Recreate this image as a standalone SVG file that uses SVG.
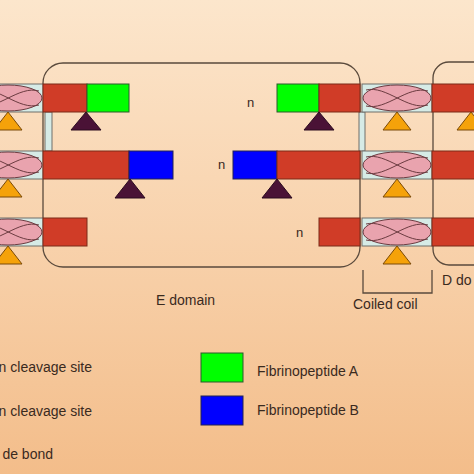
<svg xmlns="http://www.w3.org/2000/svg" width="474" height="474" viewBox="0 0 474 474">
<defs>
<linearGradient id="bg" x1="0" y1="0" x2="0" y2="1">
<stop offset="0" stop-color="#fce6cc"/>
<stop offset="0.5" stop-color="#f8d2ac"/>
<stop offset="1" stop-color="#f3bd8a"/>
</linearGradient>
<g id="cc">
<rect x="0" y="0" width="70" height="28" fill="#d6ebe6" stroke="#6f6f6a" stroke-width="1"/>
<ellipse cx="35" cy="14" rx="34" ry="13" fill="#e9a3ae" stroke="#6b3b40" stroke-width="1"/>
<path d="M4,6 C24,1 46,27 66,21 M4,22 C24,27 46,1 66,7" fill="none" stroke="#6b3b40" stroke-width="1"/>
</g>
</defs>
<style>
.red{fill:#d03c27;stroke:#7a2a18;stroke-width:1}
.grn{fill:#00ff00;stroke:#2d5a2d;stroke-width:1}
.blu{fill:#0000ff;stroke:#222255;stroke-width:1}
.org{fill:#f5a20a;stroke:#7a4a08;stroke-width:1}
.pur{fill:#4a1236;stroke:#2a0a1e;stroke-width:1}
.lnk{fill:#d6ebe6;stroke:#6f6f6a;stroke-width:1}
.dom{fill:none;stroke:#5a4a3c;stroke-width:1.3}
text{font-family:"Liberation Sans",Arial,sans-serif;fill:#3a2a1e}
.lbl{font-size:14px}
.n{font-size:13px}
</style>
<rect width="474" height="474" fill="url(#bg)"/>

<g id="domains">
<rect id="e-domain" class="dom" x="43" y="63" width="317" height="204" rx="20"/>
<rect id="d-domain" class="dom" x="433" y="62" width="70" height="203" rx="16"/>
<path id="coil-bracket" class="dom" d="M363,270 V293 H432 V270"/>
</g>

<g id="connectors">
<rect class="lnk" x="45" y="112" width="7" height="39"/>
<rect class="lnk" x="359" y="112" width="6" height="39"/>
</g>

<g id="left-coils">
<use href="#cc" x="-27" y="84"/>
<use href="#cc" x="-27" y="151"/>
<use href="#cc" x="-27" y="218"/>
<polygon class="org" points="-6,130 8,112 22,130"/>
<polygon class="org" points="-6,197 8,179 22,197"/>
<polygon class="org" points="-6,264 8,246 22,264"/>
</g>

<g id="right-coils">
<use href="#cc" x="362" y="84"/>
<use href="#cc" x="362" y="151"/>
<use href="#cc" x="362" y="218"/>
<polygon class="org" points="383,130 397,112 411,130"/>
<polygon class="org" points="383,197 397,179 411,197"/>
<polygon class="org" points="383,264 397,246 411,264"/>
</g>

<g id="e-left">
<rect class="red" x="43" y="84" width="44" height="28"/>
<rect class="grn" x="87" y="84" width="42" height="28"/>
<polygon class="pur" points="71,130 86,112 101,130"/>
<rect class="red" x="43" y="151" width="86" height="28"/>
<rect class="blu" x="129" y="151" width="44" height="28"/>
<polygon class="pur" points="115,198 130,179 145,198"/>
<rect class="red" x="43" y="218" width="44" height="28"/>
</g>

<g id="e-right">
<rect class="grn" x="277" y="84" width="42" height="28"/>
<rect class="red" x="319" y="84" width="41" height="28"/>
<polygon class="pur" points="304,130 319,112 334,130"/>
<rect class="blu" x="233" y="151" width="44" height="28"/>
<rect class="red" x="277" y="151" width="83" height="28"/>
<polygon class="pur" points="262,198 277,179 292,198"/>
<rect class="red" x="319" y="218" width="41" height="28"/>
<text class="n" x="247" y="107">n</text>
<text class="n" x="218" y="169">n</text>
<text class="n" x="296" y="237">n</text>
</g>

<g id="d-side">
<rect class="red" x="432" y="84" width="50" height="28"/>
<rect class="red" x="432" y="151" width="50" height="28"/>
<rect class="red" x="432" y="218" width="50" height="28"/>
<polygon class="org" points="457,130 471,112 485,130"/>
</g>

<g id="labels">
<text class="lbl" x="156" y="305">E domain</text>
<text class="lbl" x="353" y="309">Coiled coil</text>
<text class="lbl" x="442" y="285">D do</text>
</g>

<g id="legend">
<text class="lbl" x="92" y="372" text-anchor="end">n cleavage site</text>
<text class="lbl" x="92" y="416" text-anchor="end">n cleavage site</text>
<text class="lbl" x="53" y="459" text-anchor="end">de bond</text>
<rect class="grn" x="201" y="353" width="42" height="29"/>
<rect class="blu" x="201" y="396" width="42" height="29"/>
<text class="lbl" x="257" y="376">Fibrinopeptide A</text>
<text class="lbl" x="257" y="415">Fibrinopeptide B</text>
</g>
</svg>
